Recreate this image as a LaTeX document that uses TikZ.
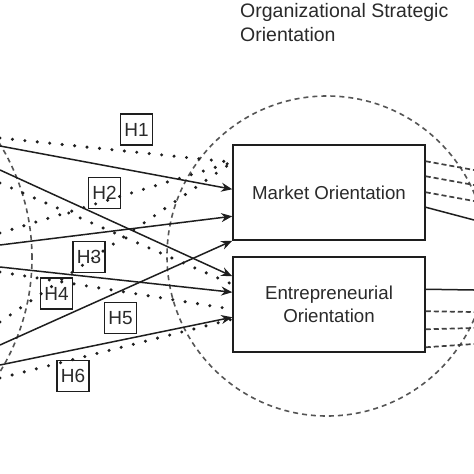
\documentclass[tikz,border=0pt]{standalone}
\usepackage{fontspec}
\setmainfont{Liberation Sans}
\usetikzlibrary{arrows.meta,calc}
\definecolor{ink}{HTML}{1E1E1E}
\definecolor{txt}{HTML}{2A2A2A}
\definecolor{circ}{HTML}{555555}
\begin{document}
\begin{tikzpicture}[x=1pt,y=-1pt,
  box/.style={draw=ink,line width=1.5pt,minimum width=192pt,minimum height=95pt,inner sep=0pt,align=center,font=\fontsize{18.7}{23}\selectfont,text=txt},
  hbox/.style={draw=ink,line width=1.4pt,minimum width=32pt,minimum height=31pt,inner sep=0pt,font=\fontsize{19}{20}\selectfont,text=txt},
  arr/.style={draw=ink,line width=1.5pt,-{Stealth[length=11pt,width=9pt]}},
  dotline/.style={draw=ink,line width=3.4pt,line cap=round,dash pattern=on 0pt off 12.5pt},
  dashc/.style={draw=circ,line width=1.6pt,dash pattern=on 5pt off 4pt},
  dashr/.style={draw=ink!85,line width=1.7pt,dash pattern=on 5pt off 3pt},
  solr/.style={draw=ink,line width=1.5pt}]
\useasboundingbox (0,0) rectangle (474,474);
\fill[white] (0,0) rectangle (474,474);

% main boxes
\node[box] (mo) at (329,192.5) {Market Orientation};
\node[box] (eo) at (329,304.5) {Entrepreneurial\\Orientation};

% title
\node[anchor=north west,inner sep=0pt,align=left,font=\fontsize{19.5}{24}\selectfont,text=txt] (title) at (240,3) {Organizational Strategic\\Orientation};

% hypothesis labels
\node[hbox] (h1) at (136.5,129.5) {H1};
\node[hbox] (h2) at (104.5,193) {H2};
\node[hbox] (h3) at (89,257) {H3};
\node[hbox] (h4) at (56.5,293.5) {H4};
\node[hbox] (h5) at (120.5,318) {H5};
\node[hbox] (h6) at (73,376) {H6};

% ports on boxes
\coordinate (m1) at ($(mo.north west)+(0,45)$);
\coordinate (m2) at ($(mo.north west)+(0,72)$);
\coordinate (m3) at (mo.south west);
\coordinate (md) at ($(mo.north west)+(0,18)$);
\coordinate (e1) at ($(eo.north west)+(0,20)$);
\coordinate (e2) at ($(eo.north west)+(0,36)$);
\coordinate (e3) at ($(eo.north west)+(0,61)$);
\coordinate (ed1) at ($(eo.north west)+(0,28)$);
\coordinate (ed2) at ($(eo.north west)+(0,53)$);
\coordinate (ed3) at ($(eo.north west)+(0,63)$);
\coordinate (mr1) at ($(mo.north east)+(0,17)$);
\coordinate (mr2) at ($(mo.north east)+(0,32)$);
\coordinate (mr3) at ($(mo.north east)+(0,48)$);
\coordinate (mr4) at ($(mo.north east)+(0,63)$);
\coordinate (er1) at ($(eo.north east)+(0,33)$);
\coordinate (er2) at ($(eo.north east)+(0,55)$);
\coordinate (er3) at ($(eo.north east)+(0,73)$);
\coordinate (er4) at ($(eo.north east)+(0,91)$);

% free ends at the left edge
\coordinate (s1) at (0,146);
\coordinate (s2) at (0,170);
\coordinate (s3) at (0,245);
\coordinate (s4) at (0,267);
\coordinate (s5) at (0,345);
\coordinate (s6) at (0,365);
\coordinate (t1) at (0,138);
\coordinate (t2) at (0,233);
\coordinate (t3) at (0,322);
\coordinate (t4) at (0,183);
\coordinate (t5) at (0,272);
\coordinate (t6) at (0,378);

% free ends at the right edge
\coordinate (mq1) at (474,170);
\coordinate (mq2) at (474,185);
\coordinate (mq3) at (474,201);
\coordinate (mq4) at (474,220);
\coordinate (eq1) at (474,290);
\coordinate (eq2) at (474,312);
\coordinate (eq3) at (474,328);
\coordinate (eq4) at (474,344);

\begin{scope}
\clip (0,0) rectangle (474,474);
\draw[dashc] (327,256) circle [radius=160pt];
\draw[dashc] (-186,258) circle [radius=218pt];

% dotted hypothesis paths
\draw[dotline] (t1) -- (md);
\draw[dotline] (t2) -- (md);
\draw[dotline] (t3) -- (md);
\draw[dotline] (t4) -- (ed1);
\draw[dotline] (t5) -- (ed2);
\draw[dotline] (t6) -- (ed3);

% solid arrows
\draw[arr] (s1) -- (m1);
\draw[arr] (s2) -- (e1);
\draw[arr] (s3) -- (m2);
\draw[arr] (s4) -- (e2);
\draw[arr] (s5) -- (m3);
\draw[arr] (s6) -- (e3);

% right side
\draw[dashr] (mr1) -- (mq1);
\draw[dashr] (mr2) -- (mq2);
\draw[dashr] (mr3) -- (mq3);
\draw[solr] (mr4) -- (mq4);
\draw[solr] (er1) -- (eq1);
\draw[dashr] (er2) -- (eq2);
\draw[dashr] (er3) -- (eq3);
\draw[dashr] (er4) -- (eq4);
\end{scope}
\end{tikzpicture}
\end{document}
